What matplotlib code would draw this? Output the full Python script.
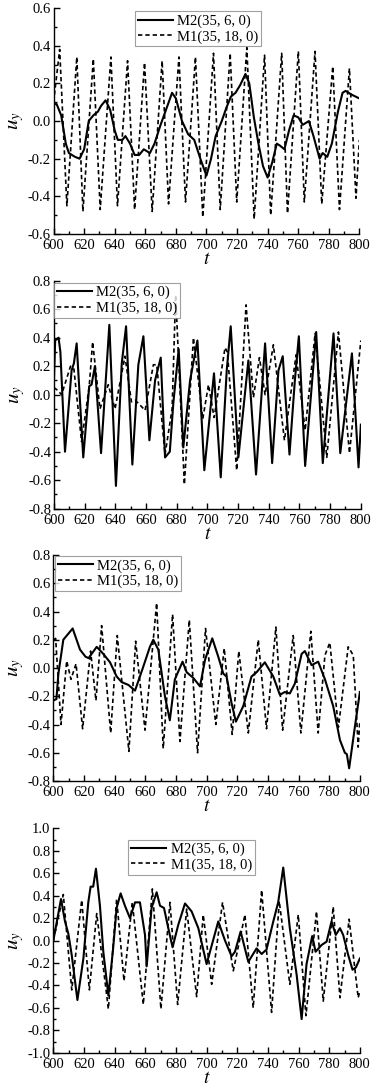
import numpy as np
import matplotlib
matplotlib.use('Agg')
import matplotlib.pyplot as plt
from matplotlib.ticker import MultipleLocator

plt.rcParams['font.family'] = ['Liberation Serif', 'DejaVu Serif']
plt.rcParams['mathtext.fontset'] = 'stix'
plt.rcParams['axes.unicode_minus'] = False

labels = ['M2(35, 6, 0)', 'M1(35, 18, 0)']

# panel 1
t1_m2 = [600, 602, 605, 608, 610, 614, 617, 620, 623, 626, 629, 631, 634, 637, 640, 642, 645, 647, 650, 653,
         656, 659, 663, 666, 670, 674, 677.5, 680, 684, 688, 692, 696, 700, 703, 706, 710, 713, 716, 719, 722,
         725.5, 728, 731, 734, 737, 740, 743, 746, 748, 751, 754, 757, 760, 763, 767, 770, 774, 776, 779, 782,
         786, 789, 791, 795, 800]
y1_m2 = [0.09, 0.09, 0.03, -0.12, -0.17, -0.19, -0.20, -0.15, 0.0, 0.03, 0.05, 0.08, 0.11, 0.06, -0.05, -0.10, -0.10, -0.08, -0.12, -0.18,
         -0.18, -0.15, -0.17, -0.12, -0.02, 0.07, 0.15, 0.12, 0.0, -0.07, -0.10, -0.20, -0.29, -0.20, -0.08, 0.0, 0.07, 0.13, 0.15, 0.19,
         0.25, 0.20, 0.02, -0.12, -0.24, -0.30, -0.22, -0.12, -0.13, -0.15, -0.05, 0.03, 0.02, -0.02, 0.0, -0.08, -0.20, -0.17, -0.19, -0.12,
         0.05, 0.15, 0.16, 0.14, 0.12]
t1_m1 = [600, 604, 608.7, 615.2, 619.2, 626, 630.5, 637.5, 641.8, 648.4, 653, 659.5, 664.5, 671, 675.2, 682, 686.3, 692.8, 697.6,
         704.6, 709, 715.5, 719.8, 726.4, 731.2, 738, 742, 749.2, 753, 760.1, 764, 771, 775.4, 782.6, 787, 793.5, 797.8, 800]
y1_m1 = [0.1, 0.38, -0.45, 0.34, -0.48, 0.33, -0.47, 0.34, -0.45, 0.32, -0.47, 0.31, -0.48, 0.32, -0.44, 0.34, -0.43, 0.34, -0.51,
         0.36, -0.47, 0.36, -0.43, 0.39, -0.52, 0.35, -0.50, 0.36, -0.49, 0.37, -0.43, 0.37, -0.44, 0.29, -0.47, 0.28, -0.41, -0.1]

# panel 2
t2_m2 = [600, 600.8, 603, 604.2, 607.2, 611.5, 613, 614.8, 619.1, 623, 624.5, 626.7, 630.7, 636.1, 640.4, 644.2, 647, 651.1, 655, 658.3,
         662.2, 665.9, 669.6, 672.4, 675.5, 677.8, 681.3, 684.3, 688.7, 693.5, 698, 704.3, 708.7, 712.6, 715.2, 720.2, 726.7, 731.7, 737.6, 742.2,
         746.3, 749.1, 753.5, 757, 759.6, 763.7, 770.9, 775.2, 782.2, 786.6, 794.2, 798.5, 800]
y2_m2 = [0.10, 0.38, 0.40, 0.30, -0.40, 0.17, 0.22, 0.36, -0.44, 0.06, 0.07, 0.20, -0.41, 0.49, -0.64, 0.22, 0.48, -0.49, 0.21, 0.41,
         -0.32, 0.10, 0.26, -0.44, -0.40, -0.06, 0.32, -0.37, 0.10, 0.38, -0.53, 0.15, -0.58, 0.17, 0.48, -0.44, 0.24, -0.56, 0.36, -0.48,
         0.17, 0.27, -0.42, 0.10, 0.41, -0.50, 0.44, -0.48, 0.43, -0.41, 0.29, -0.51, -0.21]
t2_m1 = [600, 602.5, 605, 610.8, 613, 618, 623, 625.2, 630, 635.4, 639.8, 646.3, 650.5, 653, 655, 659.4, 664.8, 667, 672.4, 677,
         679.3, 685, 690.9, 697, 700.7, 704.4, 711.5, 713, 719.1, 725.2, 730, 733.9, 737.6, 743, 750.2, 757.8, 763.7, 770.2, 777.8, 785.4,
         792.6, 800]
y2_m1 = [0.05, 0.03, 0.0, 0.20, 0.18, -0.33, 0.06, 0.37, -0.10, 0.07, -0.10, 0.27, -0.05, -0.04, -0.06, -0.11, 0.21, 0.21, -0.42, -0.10,
         0.70, -0.63, 0.40, -0.17, 0.07, -0.16, 0.33, 0.30, -0.53, 0.63, -0.02, 0.26, 0.0, 0.35, -0.32, 0.28, -0.25, 0.43, -0.44, 0.44,
         -0.41, 0.38]

# panel 3
t3_m2 = [600, 602, 603.3, 606.5, 612.6, 617.4, 621, 623, 628.3, 632.6, 637, 641.3, 644.6, 649, 653.3, 658.7, 663, 665.2, 668.5, 672.8,
         676, 679.3, 684.3, 687, 691.3, 695.7, 699, 703.7, 707.6, 710.9, 713, 716.3, 719.1, 723.9, 729.3, 732.6, 738, 743.5, 747.8, 751,
         754.3, 757.6, 762, 764.1, 768.5, 772.8, 777.2, 782.6, 787, 790.2, 791.5, 793, 796.7, 800]
y3_m2 = [-0.23, -0.22, -0.04, 0.20, 0.28, 0.13, 0.08, 0.07, 0.15, 0.10, 0.04, -0.06, -0.10, -0.12, -0.16, 0.01, 0.15, 0.20, 0.13, -0.20,
         -0.37, -0.08, 0.045, -0.03, -0.07, -0.13, 0.06, 0.21, 0.08, -0.04, -0.06, -0.25, -0.38, -0.27, -0.06, -0.03, 0.04, -0.06, -0.19, -0.17,
         -0.18, -0.11, 0.10, 0.12, 0.02, 0.045, -0.08, -0.27, -0.51, -0.60, -0.61, -0.71, -0.42, -0.17]
t3_m1 = [600, 601.5, 605, 608.7, 611.5, 614.8, 619.1, 624.3, 627.8, 631.5, 637.4, 641.7, 649.3, 653.7, 659.8, 667.4, 671.7, 677.8, 682.6, 688.7,
         694.1, 699.3, 706, 711.5, 716.7, 721, 727.2, 733.7, 739.1, 745.2, 749.6, 756.5, 761.5, 768, 772.8, 777.2, 780.4, 786, 792.4, 795.7,
         798.9, 800]
y3_m1 = [0.20, 0.21, -0.40, 0.05, -0.08, 0.03, -0.43, 0.12, -0.23, 0.30, -0.46, 0.23, -0.59, 0.19, -0.44, 0.46, -0.57, 0.38, -0.52, 0.34,
         -0.60, 0.28, -0.40, 0.14, -0.47, 0.12, -0.46, 0.20, -0.43, 0.29, -0.44, 0.23, -0.46, 0.26, -0.46, 0.09, 0.18, -0.42, 0.15, 0.09,
         -0.56, -0.37]

# panel 4
t4_m2 = [600, 605, 607.6, 609.8, 612, 615.7, 619.6, 622.8, 624.3, 626, 627.8, 630.4, 632.6, 635.9, 639, 641.3, 643.9, 646.7, 650, 653.3,
         656.5, 659.8, 660.9, 664.1, 667.4, 669.6, 672.2, 675, 677.8, 681.5, 685.9, 690.2, 694.6, 700, 707.6, 712, 716.3, 718.5, 722.2, 727.2,
         732.6, 735.9, 739.1, 743.5, 746.7, 750, 754.3, 758.7, 762, 765.2, 768.9, 771.1, 775, 778.3, 781.5, 784.3, 787, 789.1, 792.4, 795.2,
         797.4, 800]
y4_m2 = [0.0, 0.37, 0.17, 0.06, -0.13, -0.53, -0.16, 0.34, 0.48, 0.48, 0.64, 0.31, -0.10, -0.49, -0.07, 0.29, 0.42, 0.31, 0.20, 0.34,
         0.34, 0.05, -0.23, 0.29, 0.43, 0.31, 0.29, 0.11, -0.06, 0.14, 0.33, 0.26, 0.11, -0.21, 0.17, 0.0, -0.14, -0.10, 0.08, -0.19,
         -0.07, -0.12, -0.08, 0.17, 0.34, 0.65, 0.11, -0.30, -0.70, -0.21, 0.04, -0.10, -0.04, -0.01, 0.17, 0.05, 0.11, 0.05, -0.13, -0.26,
         -0.24, -0.16]
t4_m1 = [600, 606.5, 612, 618.5, 623.5, 628.3, 635.9, 641.3, 646.1, 651.5, 658.7, 664.6, 670.2, 676.1, 681.1, 687, 693.5, 697.8, 703.3, 710.4,
         717.4, 725, 730.4, 735.9, 742.4, 747.4, 754.3, 759.8, 764.8, 771.7, 776.1, 782.6, 787, 793, 798.9, 800]
y4_m1 = [0.0, 0.41, -0.44, 0.36, -0.44, 0.24, -0.61, 0.37, -0.36, 0.34, -0.57, 0.46, -0.61, 0.34, -0.57, 0.28, -0.50, 0.23, -0.39, 0.34,
         -0.27, 0.23, -0.60, 0.45, -0.64, 0.35, -0.39, 0.23, -0.67, 0.26, -0.54, 0.30, -0.51, 0.19, -0.51, -0.45]

panels = [
    (t1_m2, y1_m2, t1_m1, y1_m1, 0.6, [0.144, 0.7847, 0.822, 0.2079], (0.265, 0.985)),
    (t2_m2, y2_m2, t2_m1, y2_m1, 0.8, [0.145, 0.532, 0.825, 0.2098], (0.0, 0.99)),
    (t3_m2, y3_m2, t3_m1, y3_m1, 0.8, [0.1434, 0.2815, 0.824, 0.2079], (0.005, 0.995)),
    (t4_m2, y4_m2, t4_m1, y4_m1, 1.0, [0.1434, 0.0315, 0.824, 0.2065], (0.245, 0.95)),
]

fig = plt.figure(figsize=(3.72, 10.87), dpi=100)

for tm2, ym2, tm1, ym1, lim, rect, anchor in panels:
    ax = fig.add_axes(rect)
    ax.plot(tm2, ym2, color='black', lw=1.5, label=labels[0])
    ax.plot(tm1, ym1, color='black', lw=1.2, linestyle=(0, (2.6, 1.8)), label=labels[1])
    ax.set_xlim(600, 800)
    ax.set_ylim(-lim, lim)
    ax.xaxis.set_major_locator(MultipleLocator(20))
    ax.xaxis.set_minor_locator(MultipleLocator(10))
    ax.yaxis.set_major_locator(MultipleLocator(0.2))
    ax.yaxis.set_minor_locator(MultipleLocator(0.1))
    ax.yaxis.set_major_formatter(matplotlib.ticker.FormatStrFormatter('%.1f'))
    ax.spines['top'].set_visible(False)
    ax.spines['right'].set_visible(False)
    ax.spines['left'].set_linewidth(1.0)
    ax.spines['bottom'].set_linewidth(1.0)
    ax.tick_params(which='major', direction='in', length=4, width=1, labelsize=10.5)
    ax.tick_params(axis='x', which='major', pad=3.5)
    ax.tick_params(axis='y', which='major', pad=2)
    ax.tick_params(which='minor', direction='in', length=2, width=1)
    ax.set_xlabel('$t$', fontsize=14, labelpad=-0.5)
    ax.set_ylabel('$u_y$', fontsize=15, labelpad=1)
    leg = ax.legend(loc='upper left', bbox_to_anchor=anchor, fontsize=10.5, frameon=True, fancybox=False,
                    handlelength=2.4, handletextpad=0.3, borderpad=0.2, labelspacing=0.15, borderaxespad=0.0)
    leg.get_frame().set_edgecolor('#888888')
    leg.get_frame().set_linewidth(0.8)

fig.savefig('out.png', dpi=100)
